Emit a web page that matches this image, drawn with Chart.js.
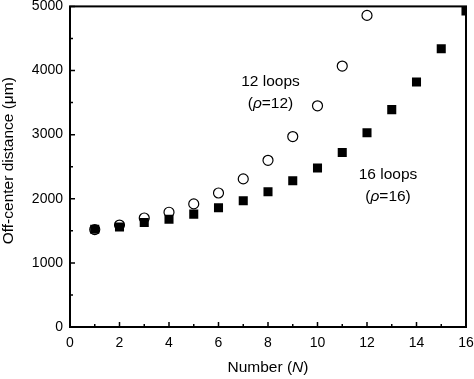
<!DOCTYPE html>
<html>
<head>
<meta charset="utf-8">
<script src="https://cdn.jsdelivr.net/npm/chart.js@4"></script>
<style>
  html, body { margin: 0; padding: 0; background: #fff; }
  #wrap { width: 474px; height: 379px; }
</style>
</head>
<body>
<div id="wrap"><canvas id="chart" width="474" height="379"></canvas></div>
<script>
// values
const loops12N = [1, 2, 3, 4, 5, 6, 7, 8, 9, 10, 11, 12];
const loops12Dist = [1520, 1590, 1700, 1790, 1920, 2090, 2310, 2600, 2970, 3450, 4070, 4860];

const loops16N = [1, 2, 3, 4, 5, 6, 7, 8, 9, 10, 11, 12, 13, 14, 15, 16];
const loops16Dist = [1525, 1560, 1630, 1680, 1760, 1860, 1970, 2110, 2280, 2480, 2720, 3030, 3390, 3820, 4340, 4930];

const xMajor = [0, 2, 4, 6, 8, 10, 12, 14, 16];
const xMinor = [1, 3, 5, 7, 9, 11, 13, 15];
const yMajor = [0, 1000, 2000, 3000, 4000, 5000];
const yMinor = [500, 1500, 2500, 3500, 4500];

const FONT = "'Liberation Sans', Arial, sans-serif";

function toPoints(xs, ys) {
    return xs.map((x, i) => ({ x: x, y: ys[i] }));
}

// box + inward ticks + titles + annotations
const framePlugin = {
    id: "frame",
    afterDraw(chart) {
        const ctx = chart.ctx;
        const a = chart.chartArea;
        const xs = chart.scales.x;
        const ys = chart.scales.y;
        ctx.save();
        ctx.strokeStyle = "#000";
        ctx.lineWidth = 2;
        ctx.strokeRect(a.left, a.top, a.right - a.left, a.bottom - a.top);

        ctx.lineWidth = 1.5;
        ctx.beginPath();
        xMajor.forEach(v => {
            const px = xs.getPixelForValue(v);
            ctx.moveTo(px, a.bottom); ctx.lineTo(px, a.bottom - 5);
        });
        xMinor.forEach(v => {
            const px = xs.getPixelForValue(v);
            ctx.moveTo(px, a.bottom); ctx.lineTo(px, a.bottom - 3);
        });
        yMajor.forEach(v => {
            const py = ys.getPixelForValue(v);
            ctx.moveTo(a.left, py); ctx.lineTo(a.left + 5, py);
        });
        yMinor.forEach(v => {
            const py = ys.getPixelForValue(v);
            ctx.moveTo(a.left, py); ctx.lineTo(a.left + 3, py);
        });
        ctx.stroke();

        ctx.fillStyle = "#000";
        ctx.textBaseline = "middle";

        // x title, with italic N
        const xt1 = "Number (", xt2 = "N", xt3 = ")";
        const plain = "15.5px " + FONT, ital = "italic 15.5px " + FONT;
        ctx.font = plain;
        const w1 = ctx.measureText(xt1).width, w3 = ctx.measureText(xt3).width;
        ctx.font = ital;
        const w2 = ctx.measureText(xt2).width;
        let x0 = (a.left + a.right) / 2 - (w1 + w2 + w3) / 2;
        const ty = 368;
        ctx.textAlign = "left";
        ctx.font = plain; ctx.fillText(xt1, x0, ty);
        ctx.font = ital; ctx.fillText(xt2, x0 + w1, ty);
        ctx.font = plain; ctx.fillText(xt3, x0 + w1 + w2, ty);

        // y title
        ctx.save();
        ctx.translate(9, (a.top + a.bottom) / 2 - 6);
        ctx.rotate(-Math.PI / 2);
        ctx.textAlign = "center";
        ctx.font = plain;
        ctx.fillText("Off-center distance (\u03bcm)", 0, 0);
        ctx.restore();

        // annotations
        function label(line1, rho, xv, yv) {
            const cx = xs.getPixelForValue(xv);
            const cy = ys.getPixelForValue(yv);
            ctx.textAlign = "center";
            ctx.font = plain;
            ctx.fillText(line1, cx, cy);
            const p1 = "(", p2 = "\u03c1", p3 = "=" + rho + ")";
            ctx.font = plain;
            const a1 = ctx.measureText(p1).width, a3 = ctx.measureText(p3).width;
            ctx.font = ital;
            const a2 = ctx.measureText(p2).width;
            let sx = cx - (a1 + a2 + a3) / 2;
            const ly = cy + 22;
            ctx.textAlign = "left";
            ctx.font = plain; ctx.fillText(p1, sx, ly);
            ctx.font = ital; ctx.fillText(p2, sx + a1, ly);
            ctx.font = plain; ctx.fillText(p3, sx + a1 + a2, ly);
        }
        label("12 loops", 12, 8.1, 3820);
        label("16 loops", 16, 12.85, 2380);
        ctx.restore();
    }
};

const ctx = document.getElementById("chart").getContext("2d");
new Chart(ctx, {
    type: "scatter",
    data: {
        datasets: [
            {
                label: "12 loops",
                data: toPoints(loops12N, loops12Dist),
                pointStyle: "circle",
                pointRadius: 5,
                pointBackgroundColor: "#fff",
                pointBorderColor: "#000",
                pointBorderWidth: 1.2,
                order: 2
            },
            {
                label: "16 loops",
                data: toPoints(loops16N, loops16Dist),
                pointStyle: "rect",
                pointRadius: 6.4,
                pointBackgroundColor: "#000",
                pointBorderColor: "#000",
                pointBorderWidth: 0,
                order: 1
            }
        ]
    },
    options: {
        responsive: false,
        animation: false,
        layout: { padding: { top: 6, right: 8, left: 0, bottom: 0 } },
        plugins: {
            legend: { display: false },
            tooltip: { enabled: false }
        },
        scales: {
            x: {
                type: "linear",
                min: 0,
                max: 16,
                grid: { display: false, drawTicks: false },
                border: { display: false },
                afterFit: s => {
                    s.height = 52;
                    s.paddingLeft = 0;
                    s.paddingRight = 0;
                },
                ticks: {
                    stepSize: 2,
                    padding: 8,
                    color: "#000",
                    font: { family: FONT, size: 14 }
                }
            },
            y: {
                min: 0,
                max: 5000,
                grid: { display: false, drawTicks: false },
                border: { display: false },
                afterFit: s => {
                    s.width = 70;
                    s.paddingTop = 0;
                    s.paddingBottom = 0;
                },
                ticks: {
                    stepSize: 1000,
                    padding: 7,
                    color: "#000",
                    font: { family: FONT, size: 14 },
                    callback: v => String(v)
                }
            }
        }
    },
    plugins: [framePlugin]
});
</script>
</body>
</html>
